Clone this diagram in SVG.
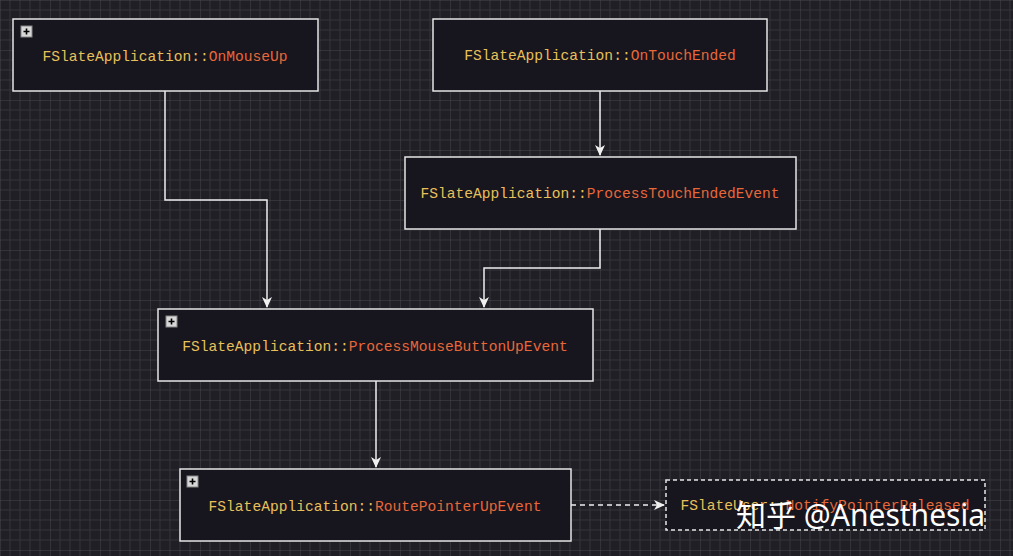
<svg xmlns="http://www.w3.org/2000/svg" width="1013" height="556" viewBox="0 0 1013 556">
<defs>
<pattern id="g" width="50" height="50" patternUnits="userSpaceOnUse">
<path d="M10 0V50M20 0V50M30 0V50M40 0V50M0 10H50M0 20H50M0 30H50M0 40H50" stroke="#34343a" stroke-width="1" fill="none"/>
<path d="M0 0V50M0 0H50" stroke="#48484e" stroke-width="1" fill="none"/>
</pattern>
<marker id="a" markerWidth="12" markerHeight="12" refX="10" refY="6" orient="auto" markerUnits="userSpaceOnUse">
<path d="M0 1L11 6L0 11L3 6Z" fill="#f0f0f0"/>
</marker>
<g id="plus"><rect width="11" height="11" fill="#d8d8d8" stroke="#888" stroke-width="1"/><path d="M2.5 5.5H8.5M5.5 2.5V8.5" stroke="#000" stroke-width="1.6"/></g>
</defs>
<style>
.b{fill:#17151d;stroke:#e6e6e6;stroke-width:1.5}
.t{font-family:"Liberation Mono","DejaVu Sans Mono",monospace;font-size:14.6px;fill:#e8c05a}
.o{fill:#e8683a}
.c{fill:none;stroke:#f0f0f0;stroke-width:1.5}
</style>
<rect width="1013" height="556" fill="#1f1f25"/>
<rect width="1013" height="556" fill="url(#g)"/>
<g id="connectors">
<path class="c" d="M165 91V200H267V307" marker-end="url(#a)"/>
<path class="c" d="M600 91V155" marker-end="url(#a)"/>
<path class="c" d="M600 229V268H484V307" marker-end="url(#a)"/>
<path class="c" d="M376 381V467" marker-end="url(#a)"/>
<path class="c" d="M571 505H664" stroke-dasharray="5,4" marker-end="url(#a)"/>
</g>
<g id="n1"><rect class="b" x="13" y="19" width="305" height="72"/><use href="#plus" x="21" y="26"/>
<text class="t" x="165" y="61" text-anchor="middle">FSlateApplication::<tspan class="o">OnMouseUp</tspan></text></g>
<g id="n2"><rect class="b" x="433" y="19" width="334" height="72"/>
<text class="t" x="600" y="60" text-anchor="middle">FSlateApplication::<tspan class="o">OnTouchEnded</tspan></text></g>
<g id="n3"><rect class="b" x="405" y="157" width="391" height="72"/>
<text class="t" x="600" y="198" text-anchor="middle">FSlateApplication::<tspan class="o">ProcessTouchEndedEvent</tspan></text></g>
<g id="n4"><rect class="b" x="158" y="309" width="435" height="72"/><use href="#plus" x="166" y="316"/>
<text class="t" x="375" y="351" text-anchor="middle">FSlateApplication::<tspan class="o">ProcessMouseButtonUpEvent</tspan></text></g>
<g id="n5"><rect class="b" x="180" y="469" width="391" height="72"/><use href="#plus" x="187" y="476"/>
<text class="t" x="375" y="511" text-anchor="middle">FSlateApplication::<tspan class="o">RoutePointerUpEvent</tspan></text></g>
<g id="n6"><rect class="b" x="666" y="480" width="319" height="50" stroke-dasharray="4,3"/>
<text class="t" x="825" y="510" text-anchor="middle">FSlateUser::<tspan class="o">NotifyPointerReleased</tspan></text></g>
<text x="736" y="526" font-family="'Noto Sans','Noto Sans CJK SC',sans-serif" font-size="30" fill="#ffffff">知乎 @Anesthesia</text>
</svg>
